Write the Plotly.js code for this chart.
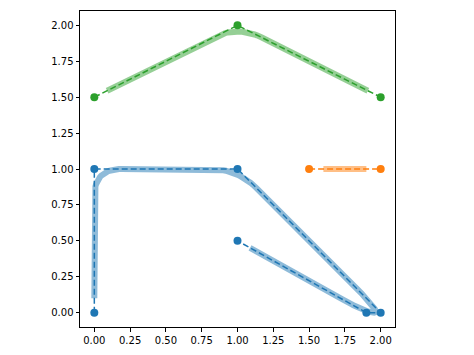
<!DOCTYPE html>
<html><head><meta charset="utf-8">
<script src="https://cdn.plot.ly/plotly-3.0.1.min.js"></script>
<style>body{margin:0;background:#fff}#c{width:474px;height:355px}</style>
</head><body><div id="c"></div>
<script>
// control points of each path
var blueX = [0, 0, 1, 2, 1.9, 1];
var blueY = [0, 1, 1, 0, 0, 0.5];
var orangeX = [1.5, 2];
var orangeY = [1, 1];
var greenX = [0, 1, 2];
var greenY = [1.5, 2, 1.5];
var tickVals = [0, 0.25, 0.5, 0.75, 1, 1.25, 1.5, 1.75, 2];
var tickText = ['0.00','0.25','0.50','0.75','1.00','1.25','1.50','1.75','2.00'];

var colors = {blue:'#1f77b4', orange:'#ff7f0e', green:'#2ca02c'};
var fills = {blue:'rgba(31,119,180,0.5)', orange:'rgba(255,127,14,0.5)', green:'rgba(44,160,44,0.5)'};

// smooth path: shrink ends, round corners with quadratic bezier
function smooth(xs, ys, shrink, rad) {
  var p = xs.map(function(x,i){return [x, ys[i]];});
  function sub(a,b){return [a[0]-b[0], a[1]-b[1]];}
  function len(v){return Math.hypot(v[0], v[1]);}
  function along(a,b,d){var v=sub(b,a), l=len(v); return [a[0]+v[0]*d/l, a[1]+v[1]*d/l];}
  var n = p.length;
  var pts = p.slice();
  pts[0] = along(p[0], p[1], shrink);
  pts[n-1] = along(p[n-1], p[n-2], shrink);
  var outX = [pts[0][0]], outY = [pts[0][1]];
  for (var i = 1; i < n-1; i++) {
    var l1 = len(sub(p[i], p[i-1])), l2 = len(sub(p[i+1], p[i]));
    var r1 = Math.min(rad, l1/2), r2 = Math.min(rad, l2/2);
    var a = along(p[i], p[i-1], r1), b = along(p[i], p[i+1], r2), c = p[i];
    for (var k = 0; k <= 20; k++) {
      var t = k/20, u = 1-t;
      outX.push(u*u*a[0] + 2*u*t*c[0] + t*t*b[0]);
      outY.push(u*u*a[1] + 2*u*t*c[1] + t*t*b[1]);
    }
  }
  outX.push(pts[n-1][0]); outY.push(pts[n-1][1]);
  return [outX, outY];
}

var traces = [];
[['blue', blueX, blueY], ['orange', orangeX, orangeY], ['green', greenX, greenY]].forEach(function(s){
  var sm = smooth(s[1], s[2], 0.1, 0.19);
  traces.push({x: sm[0], y: sm[1], mode:'lines', line:{color: fills[s[0]], width: 6}, hoverinfo:'skip'});
  traces.push({x: s[1], y: s[2], mode:'lines+markers',
    line:{color: colors[s[0]], width:1.5, dash:'6px,3px'},
    marker:{color: colors[s[0]], size:8}});
});

var ax = {
  range:[-0.1, 2.1], tickvals: tickVals, ticktext: tickText,
  showgrid:false, zeroline:false, showline:true, mirror:true,
  linecolor:'#000', linewidth:1, ticks:'outside', ticklen:3.5, tickcolor:'#000',
  tickfont:{family:'DejaVu Sans', size:10, color:'#000'}
};
var layout = {
  width:474, height:355, showlegend:false,
  margin:{l:80, r:79, t:11, b:28},
  paper_bgcolor:'#fff', plot_bgcolor:'#fff',
  xaxis: Object.assign({}, ax),
  yaxis: Object.assign({}, ax)
};
Plotly.newPlot('c', traces, layout, {displayModeBar:false, staticPlot:true});
</script></body></html>
